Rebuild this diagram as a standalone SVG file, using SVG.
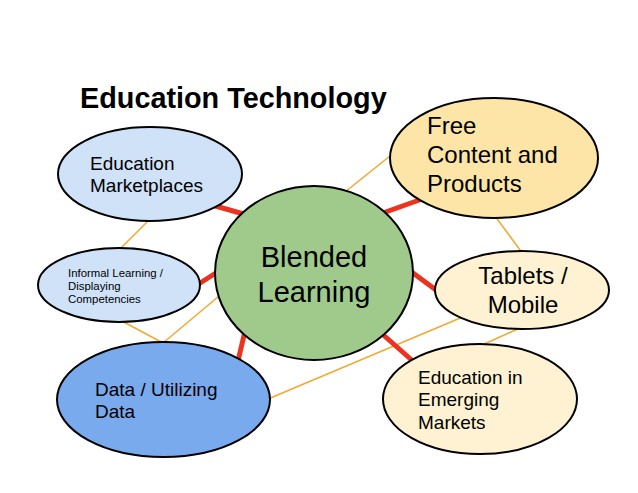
<svg xmlns="http://www.w3.org/2000/svg" width="638" height="493" viewBox="0 0 638 493">
<style>
  text { font-family: "Liberation Sans", Arial, sans-serif; fill: #000; }
  .node { stroke: #000; stroke-width: 2; }
  .red { stroke: #ec3320; stroke-width: 5; fill: none; }
  .org { stroke: #f2a935; stroke-width: 1.6; fill: none; }
</style>
<rect width="638" height="493" fill="#fff"/>
<text x="80" y="108" font-size="28.8" font-weight="bold">Education Technology</text>
<g id="connectors">
  <line class="org" x1="150" y1="219" x2="119" y2="250"/>
  <line class="org" x1="120" y1="320" x2="163" y2="343"/>
  <line class="org" x1="163" y1="343" x2="225" y2="291"/>
  <line class="org" x1="335" y1="200" x2="395" y2="152"/>
  <line class="org" x1="495" y1="216" x2="523" y2="254"/>
  <line class="org" x1="268" y1="399" x2="465" y2="316"/>
  <line class="org" x1="522" y1="327" x2="480" y2="346"/>
  <line class="red" x1="212" y1="205" x2="247" y2="215"/>
  <line class="red" x1="197" y1="285" x2="219" y2="271"/>
  <line class="red" x1="380" y1="214" x2="425" y2="198"/>
  <line class="red" x1="409" y1="270" x2="440" y2="293"/>
  <line class="red" x1="245" y1="331" x2="238" y2="361"/>
  <line class="red" x1="380" y1="332" x2="415" y2="363"/>
</g>
<g id="marketplaces">
  <ellipse class="node" cx="150" cy="174" rx="92" ry="47" fill="#cfe2f8"/>
  <text x="90" y="170" font-size="19">Education</text>
  <text x="90" y="192" font-size="19">Marketplaces</text>
</g>
<g id="informal">
  <ellipse class="node" cx="119" cy="285" rx="81" ry="37" fill="#cfe2f8"/>
  <text x="68" y="277" font-size="11.4">Informal Learning /</text>
  <text x="68" y="290" font-size="11.4">Displaying</text>
  <text x="68" y="303" font-size="11.4">Competencies</text>
</g>
<g id="data">
  <ellipse class="node" cx="163.5" cy="399.5" rx="106.5" ry="57.5" fill="#7aaaee"/>
  <text x="95" y="396" font-size="19">Data / Utilizing</text>
  <text x="95" y="418" font-size="19">Data</text>
</g>
<g id="blended">
  <ellipse class="node" cx="314" cy="273" rx="99" ry="87" fill="#9fca8c"/>
  <text x="314" y="267" font-size="29" text-anchor="middle">Blended</text>
  <text x="314" y="302" font-size="29" text-anchor="middle">Learning</text>
</g>
<g id="free">
  <ellipse class="node" cx="494" cy="158" rx="104" ry="60" fill="#fde5a8"/>
  <text x="427" y="134" font-size="24">Free</text>
  <text x="427" y="163" font-size="24">Content and</text>
  <text x="427" y="192" font-size="24">Products</text>
</g>
<g id="tablets">
  <ellipse class="node" cx="522" cy="290" rx="87" ry="39" fill="#fff2d2"/>
  <text x="523" y="284" font-size="24" text-anchor="middle">Tablets /</text>
  <text x="523" y="313" font-size="24" text-anchor="middle">Mobile</text>
</g>
<g id="emerging">
  <ellipse class="node" cx="480" cy="399" rx="97" ry="55" fill="#fff2d2"/>
  <text x="418" y="384" font-size="19">Education in</text>
  <text x="418" y="406" font-size="19">Emerging</text>
  <text x="418" y="429" font-size="19">Markets</text>
</g>
</svg>
